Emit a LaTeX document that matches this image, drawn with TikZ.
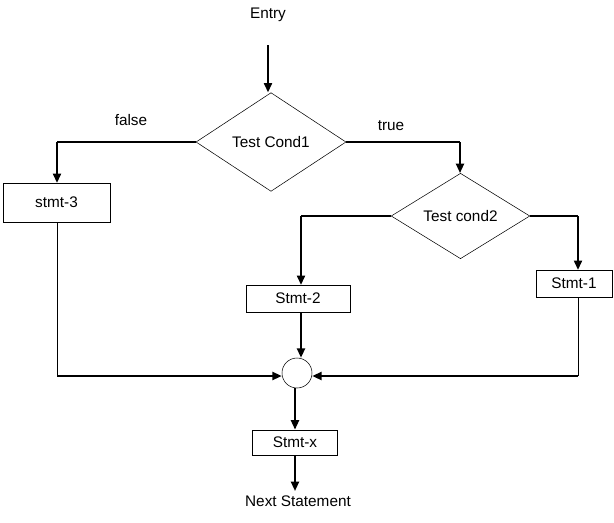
\documentclass[tikz,border=0pt]{standalone}
\usepackage{fontspec}
\setmainfont{Liberation Sans}
\usetikzlibrary{shapes.geometric}
\usetikzlibrary{arrows.meta}

\begin{document}
\begin{tikzpicture}[x=0.75pt,y=-0.75pt,font=\fontsize{11.5}{13}\selectfont]
\tikzstyle{block} = [rectangle, draw=black, inner sep=0pt]
\tikzstyle{decision} = [diamond, draw=black, inner sep=0pt]
\tikzstyle{flow} = [draw=black, line width=1.5pt, -{Triangle[length=7pt,width=6pt]}]
\tikzstyle{line} = [draw=black, line width=1pt]

\useasboundingbox (0,0) rectangle (614,522);

\node (entry) at (268,15) {Entry};
\node[decision, minimum width=112.5pt, minimum height=74pt] (c1) at (271,142) {Test Cond1};
\node[block, minimum width=80pt, minimum height=29pt] (s3) at (56.5,202.5) {stmt-3};
\node[decision, minimum width=104pt, minimum height=56pt] (c2) at (460.5,216) {Test cond2};
\node[block, minimum width=78pt, minimum height=20pt] (s2) at (298,298.5) {Stmt-2};
\node[block, minimum width=57pt, minimum height=20pt] (s1) at (574,283.5) {Stmt-1};
\node[circle, draw=black, minimum size=22.5pt, inner sep=0pt] (j) at (297,373) {};
\node[block, minimum width=64pt, minimum height=19pt] (sx) at (295,442.5) {Stmt-x};
\node (next) at (298,501) {Next Statement};

\coordinate (e1) at (268,45);
\coordinate (f1) at (57,142);
\coordinate (t1) at (460,142);
\coordinate (l2) at (301,216);
\coordinate (r2) at (578,216);
\coordinate (b3) at (57,376);
\coordinate (b1) at (578,376);
\coordinate (nx) at (295,491);

\draw[flow] (e1) -- (c1.north -| e1);
\draw[line] (c1.west) -- (f1);
\draw[flow] (f1) -- (s3.north -| f1);
\node at (131,120) {false};
\draw[line] (c1.east) -- (t1);
\draw[flow] (t1) -- (c2.north -| t1);
\node at (391,126) {true};
\draw[line] (c2.west) -- (l2);
\draw[flow] (l2) -- (s2.north -| l2);
\draw[line] (c2.east) -- (r2);
\draw[flow] (r2) -- (s1.north -| r2);
\draw[line, line width=0.6pt] (s3.south -| b3) -- (b3);
\draw[flow] (b3) -- (j.west |- b3);
\draw[line, line width=0.6pt] (s1.south -| b1) -- (b1);
\draw[flow] (b1) -- (j.east |- b1);
\draw[flow] (s2.south -| 301,0) -- (j.north -| 301,0);
\draw[flow] (j.south -| sx.north) -- (sx.north);
\draw[flow] (sx.south) -- (nx);
\end{tikzpicture}
\end{document}
